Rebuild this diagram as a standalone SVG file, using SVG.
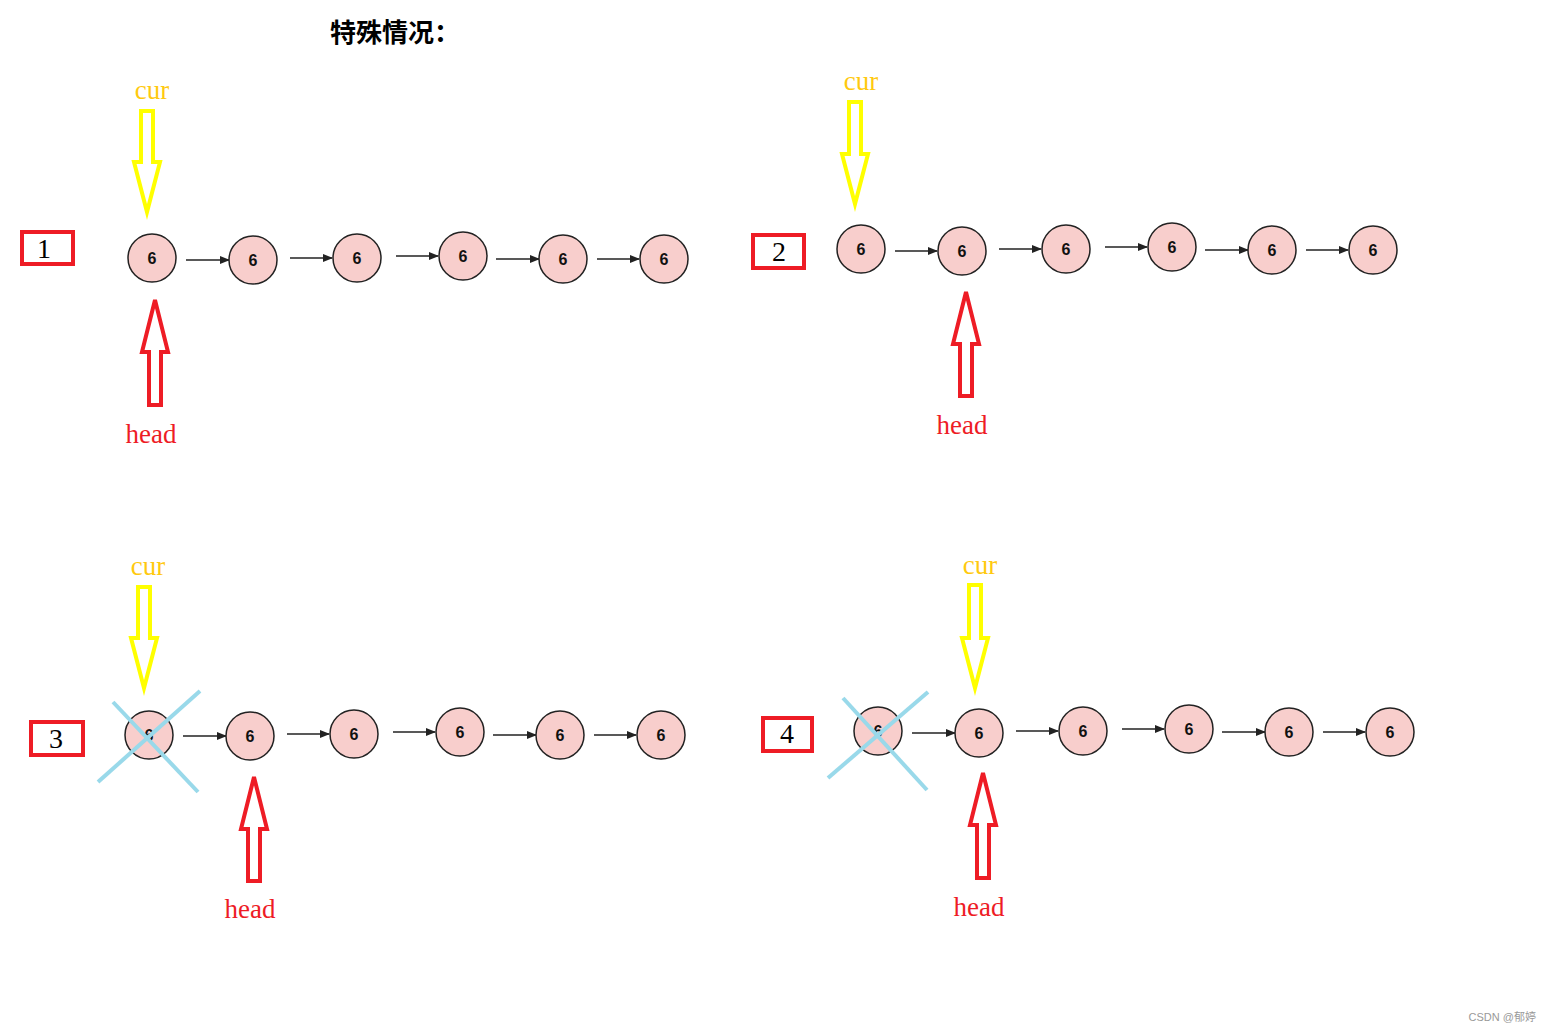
<svg xmlns="http://www.w3.org/2000/svg" width="1552" height="1032" viewBox="0 0 1552 1032">
<style>
.n{fill:#f8cecc;stroke:#222;stroke-width:1.5}
.t{font-family:"Liberation Sans",Arial,sans-serif;font-weight:bold;font-size:16px;text-anchor:middle;fill:#111}
.c{stroke:#222;stroke-width:1.5;fill:none;marker-end:url(#a)}
.ya{fill:#fff;stroke:#ffff00;stroke-width:4}
.ra{fill:#fff;stroke:#ee1c25;stroke-width:4}
.lab{font-family:"Liberation Serif","Times New Roman",serif;font-size:27px;text-anchor:middle}
.box{fill:none;stroke:#ee1c25;stroke-width:4}
.num{font-family:"Liberation Serif","Times New Roman",serif;font-size:28px;text-anchor:middle;fill:#000}
.x{stroke:#99d9ea;stroke-width:4}
</style>
<defs><marker id="a" markerWidth="10" markerHeight="8" refX="9" refY="4" orient="auto" markerUnits="userSpaceOnUse"><path d="M0,0 L10,4 L0,8 Z" fill="#222"/></marker></defs>
<rect width="1552" height="1032" fill="#fff"/>
<text x="330" y="42" font-family="'Noto Sans CJK SC',sans-serif" font-weight="bold" font-size="26">特殊情况：</text>
<g id="connectors">
<line class="c" x1="186" y1="260" x2="229" y2="260"/><line class="c" x1="290" y1="258" x2="332" y2="258"/><line class="c" x1="396" y1="256" x2="438" y2="256"/><line class="c" x1="496" y1="259" x2="539" y2="259"/><line class="c" x1="597" y1="259" x2="639" y2="259"/>
<line class="c" x1="895" y1="251" x2="937" y2="251"/><line class="c" x1="999" y1="249" x2="1041" y2="249"/><line class="c" x1="1105" y1="247" x2="1147" y2="247"/><line class="c" x1="1205" y1="250" x2="1248" y2="250"/><line class="c" x1="1306" y1="250" x2="1348" y2="250"/>
<line class="c" x1="183" y1="736" x2="226" y2="736"/><line class="c" x1="287" y1="734" x2="329" y2="734"/><line class="c" x1="393" y1="732" x2="435" y2="732"/><line class="c" x1="493" y1="735" x2="536" y2="735"/><line class="c" x1="594" y1="735" x2="636" y2="735"/>
<line class="c" x1="912" y1="733" x2="955" y2="733"/><line class="c" x1="1016" y1="731" x2="1058" y2="731"/><line class="c" x1="1122" y1="729" x2="1164" y2="729"/><line class="c" x1="1222" y1="732" x2="1265" y2="732"/><line class="c" x1="1323" y1="732" x2="1365" y2="732"/>
</g>
<g id="panel1">
<rect class="box" x="22" y="232" width="51" height="32"/><text class="num" x="44" y="258">1</text>
<g id="p1n1"><circle class="n" cx="152" cy="258" r="24"/><text class="t" x="152" y="264">6</text></g>
<g id="p1n2"><circle class="n" cx="253" cy="260" r="24"/><text class="t" x="253" y="266">6</text></g>
<g id="p1n3"><circle class="n" cx="357" cy="258" r="24"/><text class="t" x="357" y="264">6</text></g>
<g id="p1n4"><circle class="n" cx="463" cy="256" r="24"/><text class="t" x="463" y="262">6</text></g>
<g id="p1n5"><circle class="n" cx="563" cy="259" r="24"/><text class="t" x="563" y="265">6</text></g>
<g id="p1n6"><circle class="n" cx="664" cy="259" r="24"/><text class="t" x="664" y="265">6</text></g>
<text class="lab" x="152" y="99" fill="#ffc90e">cur</text>
<polygon class="ya" points="141,111 153,111 153,162 160,162 147,212 134,162 141,162"/>
<polygon class="ra" points="155,300 168,352 161,352 161,405 149,405 149,352 142,352"/>
<text class="lab" x="151" y="443" fill="#ee1c25">head</text>
</g>
<g id="panel2">
<rect class="box" x="753" y="235" width="51" height="33"/><text class="num" x="779" y="261">2</text>
<g id="p2n1"><circle class="n" cx="861" cy="249" r="24"/><text class="t" x="861" y="255">6</text></g>
<g id="p2n2"><circle class="n" cx="962" cy="251" r="24"/><text class="t" x="962" y="257">6</text></g>
<g id="p2n3"><circle class="n" cx="1066" cy="249" r="24"/><text class="t" x="1066" y="255">6</text></g>
<g id="p2n4"><circle class="n" cx="1172" cy="247" r="24"/><text class="t" x="1172" y="253">6</text></g>
<g id="p2n5"><circle class="n" cx="1272" cy="250" r="24"/><text class="t" x="1272" y="256">6</text></g>
<g id="p2n6"><circle class="n" cx="1373" cy="250" r="24"/><text class="t" x="1373" y="256">6</text></g>
<text class="lab" x="861" y="90" fill="#ffc90e">cur</text>
<polygon class="ya" points="849,102 861,102 861,154 868,154 855,204 842,154 849,154"/>
<polygon class="ra" points="966,292 979,344 972,344 972,396 960,396 960,344 953,344"/>
<text class="lab" x="962" y="434" fill="#ee1c25">head</text>
</g>
<g id="panel3">
<rect class="box" x="31" y="722" width="52" height="33"/><text class="num" x="56" y="748">3</text>
<g id="p3n1"><circle class="n" cx="149" cy="735" r="24"/><text class="t" x="149" y="741">6</text></g>
<g id="p3n2"><circle class="n" cx="250" cy="736" r="24"/><text class="t" x="250" y="742">6</text></g>
<g id="p3n3"><circle class="n" cx="354" cy="734" r="24"/><text class="t" x="354" y="740">6</text></g>
<g id="p3n4"><circle class="n" cx="460" cy="732" r="24"/><text class="t" x="460" y="738">6</text></g>
<g id="p3n5"><circle class="n" cx="560" cy="735" r="24"/><text class="t" x="560" y="741">6</text></g>
<g id="p3n6"><circle class="n" cx="661" cy="735" r="24"/><text class="t" x="661" y="741">6</text></g>
<line class="x" x1="113" y1="702" x2="198" y2="792"/><line class="x" x1="98" y1="782" x2="200" y2="691"/>
<text class="lab" x="148" y="575" fill="#ffc90e">cur</text>
<polygon class="ya" points="138,587 150,587 150,638 157,638 144,688 131,638 138,638"/>
<polygon class="ra" points="254,777 267,829 260,829 260,881 248,881 248,829 241,829"/>
<text class="lab" x="250" y="918" fill="#ee1c25">head</text>
</g>
<g id="panel4">
<rect class="box" x="763" y="718" width="49" height="33"/><text class="num" x="787" y="743">4</text>
<g id="p4n1"><circle class="n" cx="878" cy="731" r="24"/><text class="t" x="878" y="737">6</text></g>
<g id="p4n2"><circle class="n" cx="979" cy="733" r="24"/><text class="t" x="979" y="739">6</text></g>
<g id="p4n3"><circle class="n" cx="1083" cy="731" r="24"/><text class="t" x="1083" y="737">6</text></g>
<g id="p4n4"><circle class="n" cx="1189" cy="729" r="24"/><text class="t" x="1189" y="735">6</text></g>
<g id="p4n5"><circle class="n" cx="1289" cy="732" r="24"/><text class="t" x="1289" y="738">6</text></g>
<g id="p4n6"><circle class="n" cx="1390" cy="732" r="24"/><text class="t" x="1390" y="738">6</text></g>
<line class="x" x1="843" y1="698" x2="927" y2="790"/><line class="x" x1="828" y1="778" x2="928" y2="692"/>
<text class="lab" x="980" y="574" fill="#ffc90e">cur</text>
<polygon class="ya" points="969,585 981,585 981,638 988,638 975,688 962,638 969,638"/>
<polygon class="ra" points="983,773 996,825 989,825 989,878 977,878 977,825 970,825"/>
<text class="lab" x="979" y="916" fill="#ee1c25">head</text>
</g>
<text x="1536" y="1021" text-anchor="end" font-family="'Liberation Sans','Noto Sans CJK SC',sans-serif" font-size="11" fill="#999">CSDN @郁婷</text>
</svg>
